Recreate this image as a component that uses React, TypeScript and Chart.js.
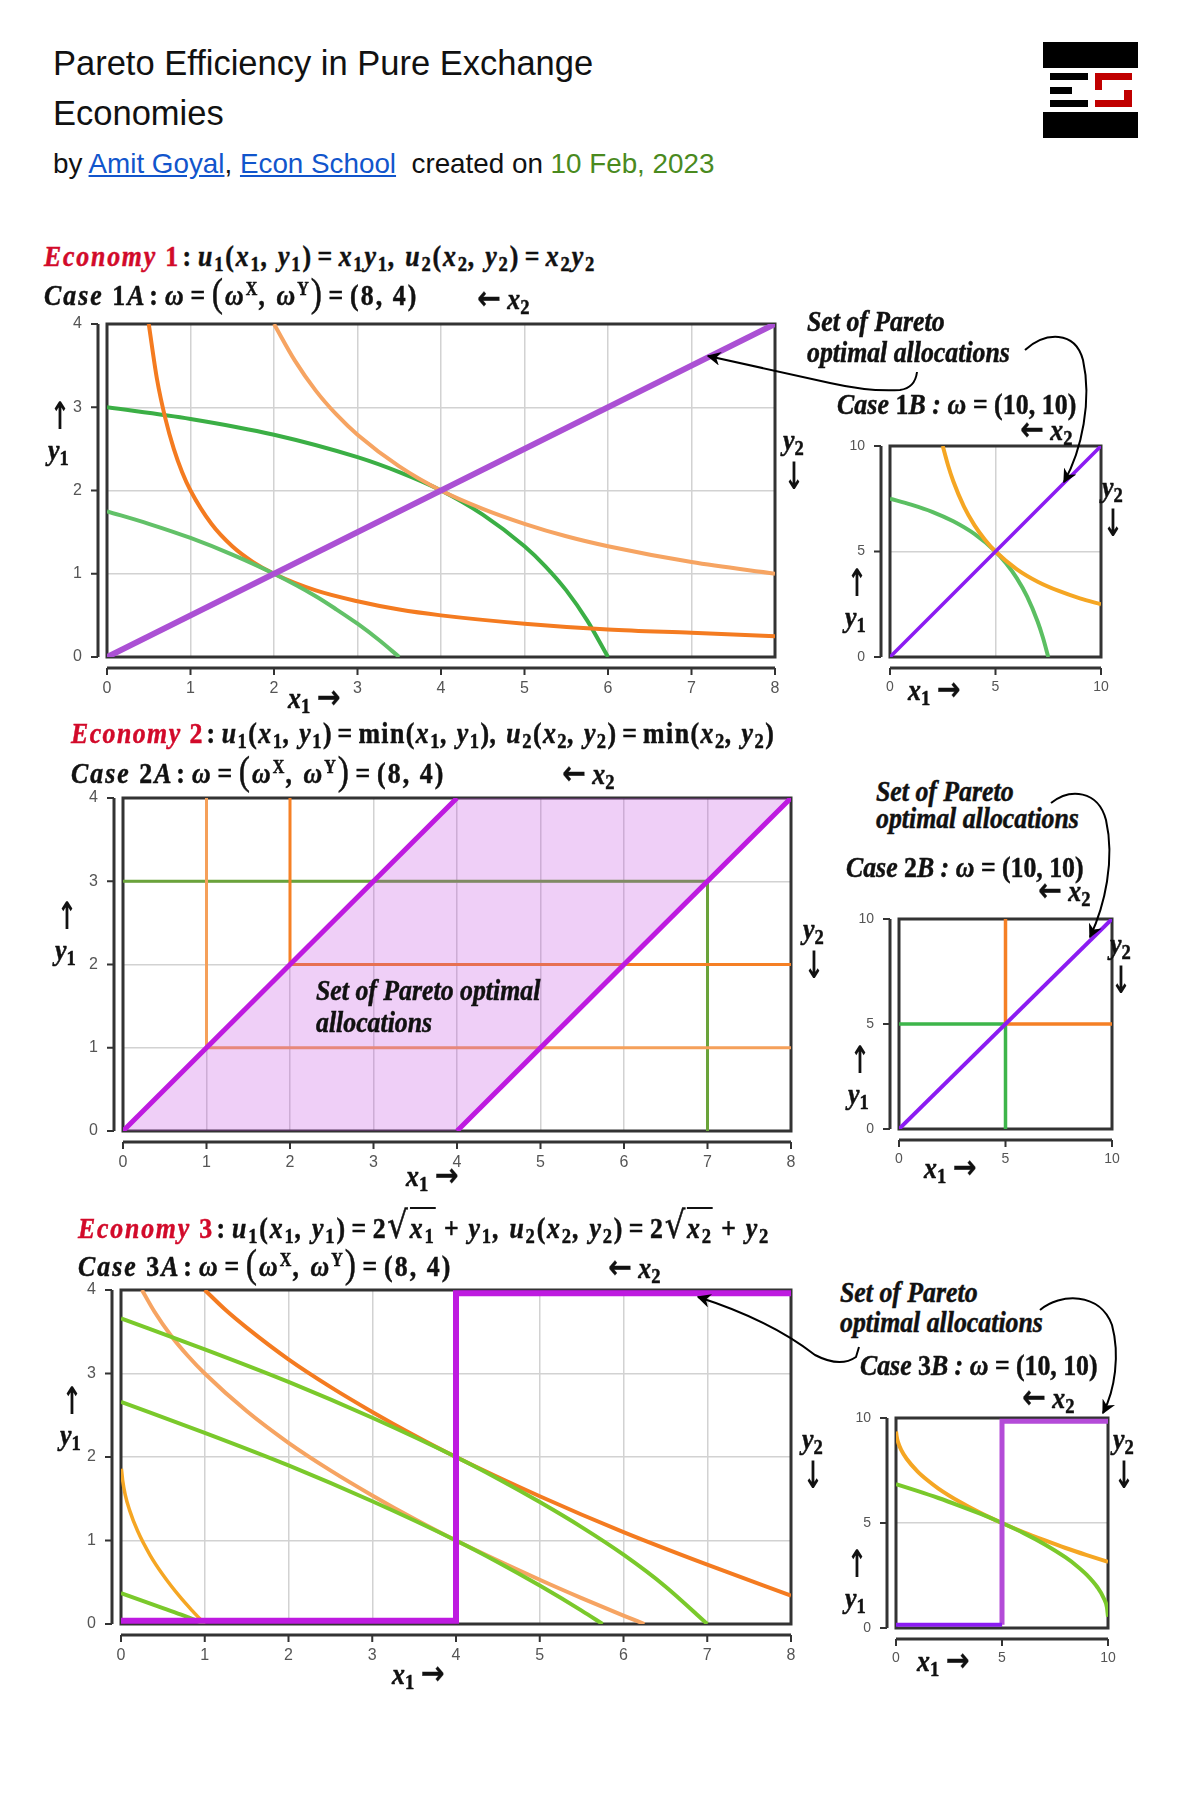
import React, { useEffect, useRef } from "react";
import { Chart, registerables } from "chart.js";
Chart.register(...registerables);

// ---------------- DATA ----------------
// Economy 1, case 1A (x 0..8, y 0..4)
const e1A_u1Low = [[0.5, 4], [0.6, 3.33], [0.7, 2.86], [0.8, 2.5], [0.9, 2.22], [1, 2], [1.25, 1.6], [1.5, 1.33], [1.75, 1.14], [2, 1], [2.5, 0.8], [3, 0.67], [3.5, 0.57], [4, 0.5], [5, 0.4], [6, 0.33], [7, 0.29], [8, 0.25]];
const e1A_u1High = [[2, 4], [2.25, 3.56], [2.5, 3.2], [2.75, 2.91], [3, 2.67], [3.5, 2.29], [4, 2], [4.5, 1.78], [5, 1.6], [5.5, 1.45], [6, 1.33], [7, 1.14], [8, 1]];
const e1A_u2High = [[0, 3], [1, 2.86], [2, 2.67], [3, 2.4], [3.5, 2.22], [4, 2], [4.5, 1.71], [5, 1.33], [5.25, 1.09], [5.5, 0.8], [5.75, 0.44], [6, 0]];
const e1A_u2Low = [[0, 1.75], [0.5, 1.6], [1, 1.43], [1.5, 1.23], [2, 1], [2.5, 0.73], [2.75, 0.57], [3, 0.4], [3.25, 0.21], [3.5, 0]];
const e1A_pareto = [[0, 0], [8, 4]];
// Economy 1, case 1B (x 0..10, y 0..10)
const e1B_u1 = [[2.5, 10], [2.75, 9.09], [3, 8.33], [3.5, 7.14], [4, 6.25], [4.5, 5.56], [5, 5], [6, 4.17], [7, 3.57], [8, 3.13], [9, 2.78], [10, 2.5]];
const e1B_u2 = [[0, 7.5], [1, 7.22], [2, 6.88], [3, 6.43], [4, 5.83], [5, 5], [5.5, 4.44], [6, 3.75], [6.5, 2.86], [7, 1.67], [7.25, 0.91], [7.5, 0]];
const e1B_pareto = [[0, 0], [10, 10]];
// Economy 2, case 2A
const e2A_u1Low = [[1, 4], [1, 1], [8, 1]];
const e2A_u1High = [[2, 4], [2, 2], [8, 2]];
const e2A_u2 = [[0, 3], [7, 3], [7, 0]];
const e2A_paretoArea = [[0, 0], [4, 4], [8, 4], [4, 0], [0, 0]];
const e2A_paretoLeft = [[0, 0], [4, 4]];
const e2A_paretoRight = [[4, 0], [8, 4]];
// Economy 2, case 2B
const e2B_u1 = [[5, 10], [5, 5], [10, 5]];
const e2B_u2 = [[0, 5], [5, 5], [5, 0]];
const e2B_pareto = [[0, 0], [10, 10]];
// Economy 3, case 3A
const e3A_u1High = [[1, 4], [1.25, 3.76], [1.5, 3.55], [2, 3.17], [2.5, 2.84], [3, 2.54], [3.5, 2.26], [4, 2], [5, 1.53], [6, 1.1], [7, 0.71], [8, 0.34]];
const e3A_u1Mid = [[0.25, 4], [0.4, 3.74], [0.6, 3.45], [0.8, 3.21], [1, 3], [1.5, 2.55], [2, 2.17], [2.5, 1.84], [3, 1.54], [3.5, 1.26], [4, 1], [5, 0.53], [5.5, 0.31], [6, 0.1], [6.25, 0]];
const e3A_u1Low = [[0.005, 1.86], [0.02, 1.72], [0.05, 1.55], [0.1, 1.37], [0.2, 1.11], [0.35, 0.82], [0.5, 0.59], [0.7, 0.33], [0.85, 0.16], [1, 0]];
const e3A_u2Low = [[0, 3.66], [1, 3.29], [2, 2.9], [3, 2.47], [4, 2], [4.5, 1.74], [5, 1.46], [5.5, 1.16], [6, 0.83], [6.5, 0.45], [7, 0]];
const e3A_u2Mid = [[0, 2.66], [1, 2.29], [2, 1.9], [3, 1.47], [4, 1], [4.5, 0.74], [5, 0.46], [5.5, 0.16], [5.75, 0]];
const e3A_u2High = [[0, 0.37], [0.25, 0.28], [0.5, 0.19], [0.75, 0.1], [1, 0]];
const e3A_pareto = [[0, 0.04], [4, 0.04], [4, 3.96], [8, 3.96]];
// Economy 3, case 3B
const e3B_u1 = [[0.003, 9.36], [0.03, 9.13], [0.1, 8.84], [0.25, 8.47], [0.5, 8.06], [1, 7.47], [1.5, 7.02], [2, 6.64], [3, 6.01], [4, 5.47], [5, 5], [6, 4.57], [7, 4.18], [8, 3.81], [9, 3.47], [10, 3.15]];
const e3B_u2 = [[0, 6.85], [1, 6.53], [2, 6.19], [3, 5.82], [4, 5.43], [5, 5], [6, 4.53], [7, 3.99], [8, 3.36], [8.5, 2.98], [9, 2.53], [9.5, 1.94], [9.8, 1.42], [9.95, 0.98], [10, 0.53]];
const e3B_paretoLow = [[0, 0.15], [5, 0.15]];
const e3B_paretoHigh = [[5, 0.15], [5, 9.85], [10, 9.85]];

// ---------------- STYLE ----------------
const F_MATH = '"Liberation Serif", "DejaVu Serif", serif';
const F_SANS = '"Liberation Sans", Arial, sans-serif';
const F_ARROW = '"DejaVu Sans", sans-serif';
const ORANGE = "#F47B20";
const ORANGE_L = "#F6A462";
const AMBER = "#F5A623";
const PURPLE_1 = "#AB50D4";
const VIOLET = "#8B1CF2";
const MAGENTA = "#BE1AE0";
const ORCHID = "#B44CD8";

type Line = { pts: number[][]; color: string; width: number; smooth?: boolean; fill?: string; order?: number };
type Spec = { L: number; T: number; R: number; B: number; xMax: number; yMax: number; xStep: number; yStep: number; fs: number; lines: Line[] };

const PADL = 50, PADB = 50, PADT = 45, PADR = 45;

const framePlugin = {
  id: "frame",
  beforeDatasetsDraw(chart: any) {
    const { ctx, chartArea: a } = chart;
    const xs = chart.scales.x, ys = chart.scales.y;
    ctx.save();
    ctx.strokeStyle = "#333";
    ctx.lineWidth = 3;
    ctx.strokeRect(a.left, a.top, a.right - a.left, a.bottom - a.top);
    const ax = a.left - 9, ay = a.bottom + 11;
    ctx.beginPath();
    ctx.moveTo(ax, a.top); ctx.lineTo(ax, a.bottom);
    ctx.moveTo(a.left, ay); ctx.lineTo(a.right, ay);
    ctx.stroke();
    ctx.lineWidth = 2;
    ctx.beginPath();
    ys.ticks.forEach((t: any) => { const p = ys.getPixelForValue(t.value); ctx.moveTo(ax, p); ctx.lineTo(ax - 7, p); });
    xs.ticks.forEach((t: any) => { const p = xs.getPixelForValue(t.value); ctx.moveTo(p, ay); ctx.lineTo(p, ay + 7); });
    ctx.stroke();
    ctx.restore();
  },
};

function Plot({ spec }: { spec: Spec }) {
  const ref = useRef<HTMLCanvasElement>(null);
  const w = spec.R - spec.L + PADL + PADR;
  const h = spec.B - spec.T + PADT + PADB;
  useEffect(() => {
    const tickFont = { family: F_SANS, size: spec.fs };
    const chart = new Chart(ref.current as HTMLCanvasElement, {
      type: "line",
      data: {
        datasets: spec.lines.map((l) => ({
          data: l.pts.map((p) => ({ x: p[0], y: p[1] })),
          borderColor: l.fill ? "rgba(0,0,0,0)" : l.color,
          backgroundColor: l.fill ? l.fill : "rgba(0,0,0,0)",
          borderWidth: l.fill ? 0 : l.width,
          fill: l.fill ? "shape" : false,
          pointRadius: 0,
          tension: 0,
          cubicInterpolationMode: l.smooth ? "monotone" : "default",
          borderJoinStyle: "miter",
          borderCapStyle: "butt",
          order: l.order ?? 2,
        })) as any,
      },
      options: {
        responsive: false,
        animation: false,
        devicePixelRatio: 1,
        events: [],
        layout: { padding: { left: 0, top: PADT, right: PADR, bottom: 0 } },
        plugins: { legend: { display: false }, tooltip: { enabled: false } },
        scales: {
          x: {
            type: "linear", min: 0, max: spec.xMax,
            afterFit: (s: any) => { s.height = PADB; },
            grid: { color: "#d2d2d2", lineWidth: 1.5, drawTicks: false },
            border: { display: false },
            ticks: { stepSize: spec.xStep, padding: 22, color: "#555", font: tickFont, maxRotation: 0, autoSkip: false },
          },
          y: {
            type: "linear", min: 0, max: spec.yMax,
            afterFit: (s: any) => { s.width = PADL; },
            grid: { color: "#d2d2d2", lineWidth: 1.5, drawTicks: false },
            border: { display: false },
            ticks: { stepSize: spec.yStep, padding: 25, color: "#555", font: tickFont, autoSkip: false },
          },
        },
      } as any,
      plugins: [framePlugin],
    });
    return () => chart.destroy();
  }, []);
  return (
    <canvas
      ref={ref}
      width={w}
      height={h}
      style={{ position: "absolute", left: spec.L - PADL, top: spec.T - PADT, width: w, height: h }}
    />
  );
}

function Sb({ children }: any) {
  return <span style={{ fontSize: "0.72em", fontStyle: "normal", position: "relative", top: "0.26em" }}>{children}</span>;
}
function Sp({ children }: any) {
  return <span style={{ fontSize: "0.62em", fontStyle: "normal", position: "relative", top: "-0.55em" }}>{children}</span>;
}
function BigP({ children }: any) {
  return <span style={{ fontSize: "1.3em", fontStyle: "normal", fontWeight: "normal", position: "relative", top: "0.04em" }}>{children}</span>;
}
function Up({ children }: any) {
  return <span style={{ fontStyle: "normal" }}>{children}</span>;
}
function Red({ children }: any) {
  return <span style={{ color: "#D20A2A" }}>{children}</span>;
}
function Eq() {
  return <span style={{ fontStyle: "normal", margin: "0 0.18em" }}>=</span>;
}
function Col() {
  return <span style={{ fontStyle: "normal", margin: "0 0.2em 0 0.1em" }}>:</span>;
}
function Ar({ ch }: any) {
  return <span style={{ fontFamily: F_ARROW, fontStyle: "normal", fontSize: "1.1em", WebkitTextStrokeWidth: "0.3px" }}>{ch}</span>;
}
function Sq({ children }: any) {
  return (
    <span>
      <span style={{ fontStyle: "normal", fontWeight: "normal", fontSize: "1.25em", fontFamily: F_ARROW }}>√</span>
      <span style={{ borderTop: "2px solid #111", paddingTop: 2 }}>{children}</span>
    </span>
  );
}

function Txt({ x, y, size = 30, sx = 0.86, ls = 0, children, style }: any) {
  return (
    <div
      style={{
        position: "absolute",
        left: x,
        top: y - 0.8375 * size,
        fontFamily: F_MATH,
        fontStyle: "italic",
        fontWeight: "bold",
        fontSize: size,
        letterSpacing: ls,
        lineHeight: 1,
        whiteSpace: "nowrap",
        color: "#111",
        WebkitTextStrokeWidth: "0.5px",
        transform: `scaleX(${sx})`,
        transformOrigin: "left center",
        ...style,
      }}
    >
      {children}
    </div>
  );
}

function Arrow({ x, y, ch }: any) {
  return (
    <div
      style={{
        position: "absolute", left: x, top: y, transform: "translate(-50%, -50%) scale(0.85, 1.35)",
        fontFamily: F_ARROW, fontWeight: "bold", fontSize: 28, lineHeight: 1, color: "#111",
      }}
    >
      {ch}
    </div>
  );
}

export default function App() {
  const specs: Spec[] = [
    {
      L: 107, T: 324, R: 775, B: 657, xMax: 8, yMax: 4, xStep: 1, yStep: 1, fs: 16,
      lines: [
        { pts: e1A_pareto, color: PURPLE_1, width: 6, order: 0 },
        { pts: e1A_u1Low, color: ORANGE, width: 4, smooth: true, order: 2 },
        { pts: e1A_u1High, color: ORANGE_L, width: 4, smooth: true, order: 1 },
        { pts: e1A_u2High, color: "#3BAF45", width: 4, smooth: true, order: 2 },
        { pts: e1A_u2Low, color: "#62C168", width: 4, smooth: true, order: 1 },
      ],
    },
    {
      L: 890, T: 446, R: 1101, B: 657, xMax: 10, yMax: 10, xStep: 5, yStep: 5, fs: 14,
      lines: [
        { pts: e1B_pareto, color: VIOLET, width: 3.5, order: 0 },
        { pts: e1B_u1, color: AMBER, width: 4, smooth: true, order: 1 },
        { pts: e1B_u2, color: "#5BBF62", width: 4, smooth: true, order: 2 },
      ],
    },
    {
      L: 123, T: 798, R: 791, B: 1131, xMax: 8, yMax: 4, xStep: 1, yStep: 1, fs: 16,
      lines: [
        { pts: e2A_paretoLeft, color: MAGENTA, width: 5, order: 0 },
        { pts: e2A_paretoRight, color: MAGENTA, width: 5, order: 0 },
        { pts: e2A_paretoArea, color: MAGENTA, width: 0, fill: "rgba(192,64,224,0.25)", order: 1 },
        { pts: e2A_u1Low, color: "#F5A05A", width: 3, order: 2 },
        { pts: e2A_u1High, color: "#F58025", width: 3, order: 2 },
        { pts: e2A_u2, color: "#6AA33A", width: 3, order: 2 },
      ],
    },
    {
      L: 899, T: 919, R: 1112, B: 1129, xMax: 10, yMax: 10, xStep: 5, yStep: 5, fs: 14,
      lines: [
        { pts: e2B_pareto, color: VIOLET, width: 4, order: 0 },
        { pts: e2B_u1, color: "#F58025", width: 3.5, order: 1 },
        { pts: e2B_u2, color: "#3DB54A", width: 3.5, order: 1 },
      ],
    },
    {
      L: 121, T: 1290, R: 791, B: 1624, xMax: 8, yMax: 4, xStep: 1, yStep: 1, fs: 16,
      lines: [
        { pts: e3A_pareto, color: MAGENTA, width: 6, order: 0 },
        { pts: e3A_u1High, color: ORANGE, width: 4, smooth: true, order: 2 },
        { pts: e3A_u1Mid, color: ORANGE_L, width: 4, smooth: true, order: 2 },
        { pts: e3A_u1Low, color: AMBER, width: 3.5, smooth: true, order: 2 },
        { pts: e3A_u2Low, color: "#7AC92B", width: 4, smooth: true, order: 1 },
        { pts: e3A_u2Mid, color: "#7AC92B", width: 4, smooth: true, order: 1 },
        { pts: e3A_u2High, color: "#7AC92B", width: 4, smooth: true, order: 1 },
      ],
    },
    {
      L: 896, T: 1418, R: 1108, B: 1628, xMax: 10, yMax: 10, xStep: 5, yStep: 5, fs: 14,
      lines: [
        { pts: e3B_paretoLow, color: VIOLET, width: 4, order: 0 },
        { pts: e3B_paretoHigh, color: ORCHID, width: 5, order: 0 },
        { pts: e3B_u1, color: AMBER, width: 4, smooth: true, order: 2 },
        { pts: e3B_u2, color: "#7AC92B", width: 4, smooth: true, order: 1 },
      ],
    },
  ];

  const omega = (
    <>
      ω<Eq /><BigP>(</BigP>ω<Sp>X</Sp>, ω<Sp>Y</Sp><BigP>)</BigP><Eq /><Up>(8, 4)</Up>
    </>
  );
  const y2down = (x: number, y: number) => (
    <>
      <Txt x={x} y={y + 7}>y<Sb>2</Sb></Txt>
      <Arrow x={x + 11} y={y + 34} ch="↓" />
    </>
  );
  const y1up = (x: number, y: number) => (
    <>
      <Arrow x={x + 12} y={y - 36} ch="↑" />
      <Txt x={x} y={y + 7}>y<Sb>1</Sb></Txt>
    </>
  );
  const LSE = 2.1;
  const LSC = 2.4;

  return (
    <div style={{ position: "absolute", left: 0, top: 0, width: 1200, height: 1797, overflow: "hidden", background: "#fff" }}>
      {/* Title */}
      <div style={{ position: "absolute", left: 53, top: 46, fontFamily: F_SANS, fontSize: 34.5, lineHeight: 1, whiteSpace: "nowrap", color: "#111" }}>
        Pareto Efficiency in Pure Exchange
      </div>
      <div style={{ position: "absolute", left: 53, top: 96, fontFamily: F_SANS, fontSize: 34.5, lineHeight: 1, whiteSpace: "nowrap", color: "#111" }}>
        Economies
      </div>
      <div style={{ position: "absolute", left: 53, top: 150, fontFamily: F_SANS, fontSize: 27.8, lineHeight: 1, whiteSpace: "pre", color: "#111" }}>
        by <span style={{ color: "#1155CC", textDecoration: "underline" }}>Amit Goyal</span>,{" "}
        <span style={{ color: "#1155CC", textDecoration: "underline" }}>Econ School</span>{"  "}created on{" "}
        <span style={{ color: "#4A8A1E" }}>10 Feb, 2023</span>
      </div>
      {/* Logo */}
      <div style={{ position: "absolute", left: 1043, top: 42, width: 95, height: 26, background: "#000" }} />
      <div style={{ position: "absolute", left: 1043, top: 112, width: 95, height: 26, background: "#000" }} />
      <div style={{ position: "absolute", left: 1050, top: 73, width: 38, height: 7, background: "#000" }} />
      <div style={{ position: "absolute", left: 1050, top: 87, width: 22, height: 7, background: "#000" }} />
      <div style={{ position: "absolute", left: 1050, top: 100, width: 38, height: 7, background: "#000" }} />
      <div style={{ position: "absolute", left: 1095, top: 73, width: 37, height: 7, background: "#C00000" }} />
      <div style={{ position: "absolute", left: 1095, top: 73, width: 7, height: 17, background: "#C00000" }} />
      <div style={{ position: "absolute", left: 1124, top: 90, width: 8, height: 17, background: "#C00000" }} />
      <div style={{ position: "absolute", left: 1095, top: 100, width: 37, height: 7, background: "#C00000" }} />

      {specs.map((s, i) => <Plot key={i} spec={s} />)}

      {/* Economy 1 */}
      <Txt x={44} y={266} ls={LSE}>
        <Red>Economy <Up>1</Up></Red><Col />u<Sb>1</Sb><Up>(</Up>x<Sb>1</Sb>, y<Sb>1</Sb><Up>)</Up><Eq />x<Sb>1</Sb>y<Sb>1</Sb>, u<Sb>2</Sb><Up>(</Up>x<Sb>2</Sb>, y<Sb>2</Sb><Up>)</Up><Eq />x<Sb>2</Sb>y<Sb>2</Sb>
      </Txt>
      <Txt x={44} y={297} ls={LSC}>Case <Up>1</Up>A<Col />{omega}</Txt>
      <Txt x={477} y={306}><Ar ch="←" /> x<Sb>2</Sb></Txt>
      {y1up(48, 453)}
      <Txt x={288} y={705}>x<Sb>1</Sb> <Ar ch="→" /></Txt>
      {y2down(783, 443)}
      <Txt x={807} y={331}>Set of Pareto</Txt>
      <Txt x={807} y={362}>optimal allocations</Txt>
      <Txt x={837} y={414} ls={0.1}>Case <Up>1</Up>B : ω = <Up>(10, 10)</Up></Txt>
      <Txt x={1020} y={437}><Ar ch="←" /> x<Sb>2</Sb></Txt>
      {y2down(1102, 490)}
      {y1up(845, 620)}
      <Txt x={908} y={697}>x<Sb>1</Sb> <Ar ch="→" /></Txt>

      {/* Economy 2 */}
      <Txt x={71} y={743} ls={1.7}>
        <Red>Economy <Up>2</Up></Red><Col />u<Sb>1</Sb><Up>(</Up>x<Sb>1</Sb>, y<Sb>1</Sb><Up>)</Up><Eq /><Up>min(</Up>x<Sb>1</Sb>, y<Sb>1</Sb><Up>)</Up>, u<Sb>2</Sb><Up>(</Up>x<Sb>2</Sb>, y<Sb>2</Sb><Up>)</Up><Eq /><Up>min(</Up>x<Sb>2</Sb>, y<Sb>2</Sb><Up>)</Up>
      </Txt>
      <Txt x={71} y={775} ls={LSC}>Case <Up>2</Up>A<Col />{omega}</Txt>
      <Txt x={562} y={781}><Ar ch="←" /> x<Sb>2</Sb></Txt>
      {y1up(55, 953)}
      <Txt x={406} y={1183}>x<Sb>1</Sb> <Ar ch="→" /></Txt>
      {y2down(803, 932)}
      <Txt x={316} y={1000}>Set of Pareto optimal</Txt>
      <Txt x={316} y={1032}>allocations</Txt>
      <Txt x={876} y={801}>Set of Pareto</Txt>
      <Txt x={876} y={828}>optimal allocations</Txt>
      <Txt x={846} y={877} ls={0}>Case <Up>2</Up>B : ω = <Up>(10, 10)</Up></Txt>
      <Txt x={1038} y={898}><Ar ch="←" /> x<Sb>2</Sb></Txt>
      {y2down(1110, 947)}
      {y1up(848, 1097)}
      <Txt x={924} y={1175}>x<Sb>1</Sb> <Ar ch="→" /></Txt>

      {/* Economy 3 */}
      <Txt x={78} y={1232} ls={LSE}>
        <Red>Economy <Up>3</Up></Red><Col />u<Sb>1</Sb><Up>(</Up>x<Sb>1</Sb>, y<Sb>1</Sb><Up>)</Up><Eq /><Up>2</Up><Sq>x<Sb>1</Sb></Sq> + y<Sb>1</Sb>, u<Sb>2</Sb><Up>(</Up>x<Sb>2</Sb>, y<Sb>2</Sb><Up>)</Up><Eq /><Up>2</Up><Sq>x<Sb>2</Sb></Sq> + y<Sb>2</Sb>
      </Txt>
      <Txt x={78} y={1268} ls={LSC}>Case <Up>3</Up>A<Col />{omega}</Txt>
      <Txt x={608} y={1275}><Ar ch="←" /> x<Sb>2</Sb></Txt>
      {y1up(60, 1438)}
      <Txt x={392} y={1681}>x<Sb>1</Sb> <Ar ch="→" /></Txt>
      {y2down(802, 1442)}
      <Txt x={840} y={1302}>Set of Pareto</Txt>
      <Txt x={840} y={1332}>optimal allocations</Txt>
      <Txt x={860} y={1375} ls={0}>Case <Up>3</Up>B : ω = <Up>(10, 10)</Up></Txt>
      <Txt x={1022} y={1405}><Ar ch="←" /> x<Sb>2</Sb></Txt>
      {y2down(1113, 1442)}
      {y1up(845, 1601)}
      <Txt x={917} y={1668}>x<Sb>1</Sb> <Ar ch="→" /></Txt>

      {/* Annotation arrows */}
      <svg width={1200} height={1797} style={{ position: "absolute", left: 0, top: 0, pointerEvents: "none" }}>
        <defs>
          <marker id="ah" viewBox="0 0 10 10" refX="9" refY="5" markerWidth="14" markerHeight="14" markerUnits="userSpaceOnUse" orient="auto">
            <path d="M0,0 L10,5 L0,10 L3,5 z" fill="#000" />
          </marker>
        </defs>
        <g fill="none" stroke="#000" strokeWidth={2}>
          <path d="M 917 372 Q 915 388, 900 390 Q 870 392, 830 383 L 708 356" markerEnd="url(#ah)" />
          <path d="M 1025 350 C 1045 332, 1075 330, 1083 360 C 1092 400, 1082 450, 1064 482" markerEnd="url(#ah)" />
          <path d="M 1051 803 C 1070 788, 1098 790, 1106 820 C 1115 860, 1105 905, 1090 937" markerEnd="url(#ah)" />
          <path d="M 859 1347 L 856 1357 Q 840 1368, 815 1355 Q 770 1320, 698 1297" markerEnd="url(#ah)" />
          <path d="M 1040 1310 C 1060 1293, 1100 1292, 1112 1325 C 1120 1355, 1115 1390, 1103 1413" markerEnd="url(#ah)" />
        </g>
      </svg>
    </div>
  );
}
